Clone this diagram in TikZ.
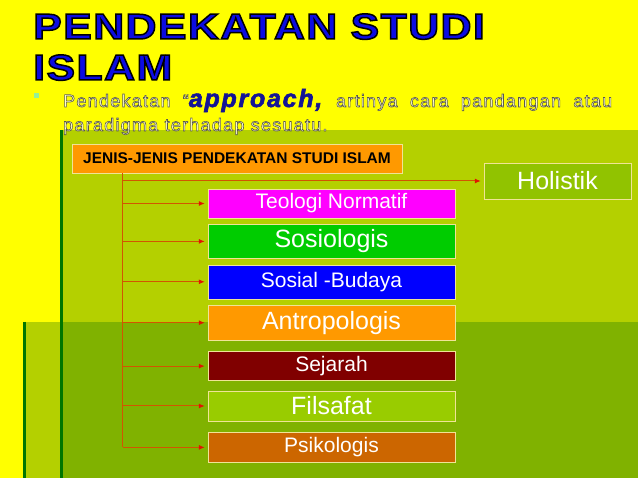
\documentclass[tikz,border=0pt]{standalone}
\usepackage{fontspec}
\setmainfont{Liberation Sans}
\newfontfamily\titlefont[FakeStretch=1.19,LetterSpace=4]{Liberation Sans}
\newfontfamily\bodyfont[LetterSpace=7]{Liberation Sans}
\usetikzlibrary{positioning, arrows.meta}
\usepackage{xcolor}
\definecolor{slideyellow}{RGB}{255,255,0}
\definecolor{slidelime}{RGB}{180,208,0}
\definecolor{slidegreen}{RGB}{128,178,0}
\definecolor{edgegreen}{RGB}{0,118,0}
\definecolor{titleblue}{RGB}{12,12,225}
\definecolor{approachblue}{RGB}{20,20,150}
\definecolor{paletext}{RGB}{255,255,210}
\definecolor{bulletgreen}{RGB}{150,240,150}
\definecolor{mmagenta}{RGB}{255,0,255}
\definecolor{mgreen}{RGB}{0,204,0}
\definecolor{mblue}{RGB}{0,0,255}
\definecolor{morange}{RGB}{255,153,0}
\definecolor{mmaroon}{RGB}{128,0,0}
\definecolor{mlime}{RGB}{153,204,0}
\definecolor{mrust}{RGB}{204,102,0}
\definecolor{mholistik}{RGB}{145,195,0}
\definecolor{linebrown}{RGB}{210,85,0}
\definecolor{arrowred}{RGB}{225,20,0}
\definecolor{boxborder}{RGB}{240,228,150}
% text with a dark outline (fill + stroke)
\newcommand\outlineon[2]{\special{pdf:literal direct 2 Tr #1 w #2 RG}}
\newcommand\outlineoff{\special{pdf:literal direct 0 Tr}}

\begin{document}
\begin{tikzpicture}[x=1pt, y=-1pt,
    titletext/.style={anchor=base west, align=left, inner sep=0pt, text=titleblue,
                      font=\titlefont\bfseries\fontsize{36}{41}\selectfont},
    bodytext/.style={anchor=base west, inner sep=0pt, text width=549pt, align=justify,
                     text=paletext, font=\bodyfont\fontsize{18}{24}\selectfont},
    headbox/.style={draw=boxborder, fill=morange, inner sep=0pt, minimum width=330pt,
                    minimum height=29pt, font=\bfseries\fontsize{15.5}{16}\selectfont},
    approachbox/.style={draw=boxborder, inner sep=0pt, minimum width=247pt, text=white},
    small/.style={font=\fontsize{21}{22}\selectfont},
    big/.style={font=\fontsize{25}{26}\selectfont},
    trunk/.style={draw=linebrown, line width=1pt},
    branch/.style={trunk, -{Latex[length=6pt, width=5pt, color=arrowred]}, shorten >=3pt},
]
\useasboundingbox (0,0) rectangle (638,478);
% slide background
\fill[slideyellow] (0,0) rectangle (638,478);
\fill[slidelime] (60,130) rectangle (638,478);
\fill[slidelime] (23,322) rectangle (60,478);
\fill[slidegreen] (60,322) rectangle (638,478);
\draw[edgegreen, line width=3pt] (61.5,130) -- (61.5,478);
\draw[edgegreen, line width=3pt] (24.5,322) -- (24.5,478);

% base anchor sits on the last line here
\node[titletext] (title) at (33,80) {\outlineon{1.5}{0 0 0}PENDEKATAN STUDI\\ISLAM\outlineoff};

\fill[bulletgreen] (34,93) rectangle (39,98);
% ...and on the first line here
\node[bodytext] (body) at (63,107) {\outlineon{0.6}{0.35 0.35 0.3}Pendekatan “{\color{approachblue}\fontsize{25}{24}\selectfont\bfseries\itshape approach,}\outlineon{0.6}{0.35 0.35 0.3} artinya cara pandangan atau\linebreak paradigma terhadap sesuatu.\outlineoff};

\node[headbox] (header) at (237,158.5) {JENIS-JENIS PENDEKATAN STUDI ISLAM};

\node[approachbox, big, fill=mholistik, minimum width=147pt, minimum height=36pt] (holistik) at (557.5,181) {Holistik};

\node[approachbox, small, fill=mmagenta, minimum height=29pt] (teologi) at (331.5,203.5) {Teologi Normatif};
\node[approachbox, big, fill=mgreen, minimum height=34pt, below=6pt of teologi] (sosiologis) {Sosiologis};
\node[approachbox, small, fill=mblue, minimum height=34pt, below=6pt of sosiologis] (sosbud) {Sosial -Budaya};
\node[approachbox, big, fill=morange, minimum height=35pt, below=6pt of sosbud] (antropologis) {Antropologis};
\node[approachbox, small, fill=mmaroon, minimum height=29pt, below=11pt of antropologis] (sejarah) {Sejarah};
\node[approachbox, big, fill=mlime, minimum height=30pt, below=10pt of sejarah] (filsafat) {Filsafat};
\node[approachbox, small, fill=mrust, minimum height=30pt, below=11pt of filsafat] (psikologis) {Psikologis};

\coordinate (trunktop) at ([xshift=51pt]header.south west);
\coordinate (trunkend) at (trunktop |- psikologis.west);

\draw[trunk] (trunktop) -- (trunkend);
\draw[branch] (trunktop |- holistik.west) -- (holistik.west);
\draw[branch] (trunktop |- teologi.west) -- (teologi.west);
\draw[branch] (trunktop |- sosiologis.west) -- (sosiologis.west);
\draw[branch] (trunktop |- sosbud.west) -- (sosbud.west);
\draw[branch] (trunktop |- antropologis.west) -- (antropologis.west);
\draw[branch] (trunktop |- sejarah.west) -- (sejarah.west);
\draw[branch] (trunktop |- filsafat.west) -- (filsafat.west);
\draw[branch] (trunkend) -- (psikologis.west);

\end{tikzpicture}
\end{document}
